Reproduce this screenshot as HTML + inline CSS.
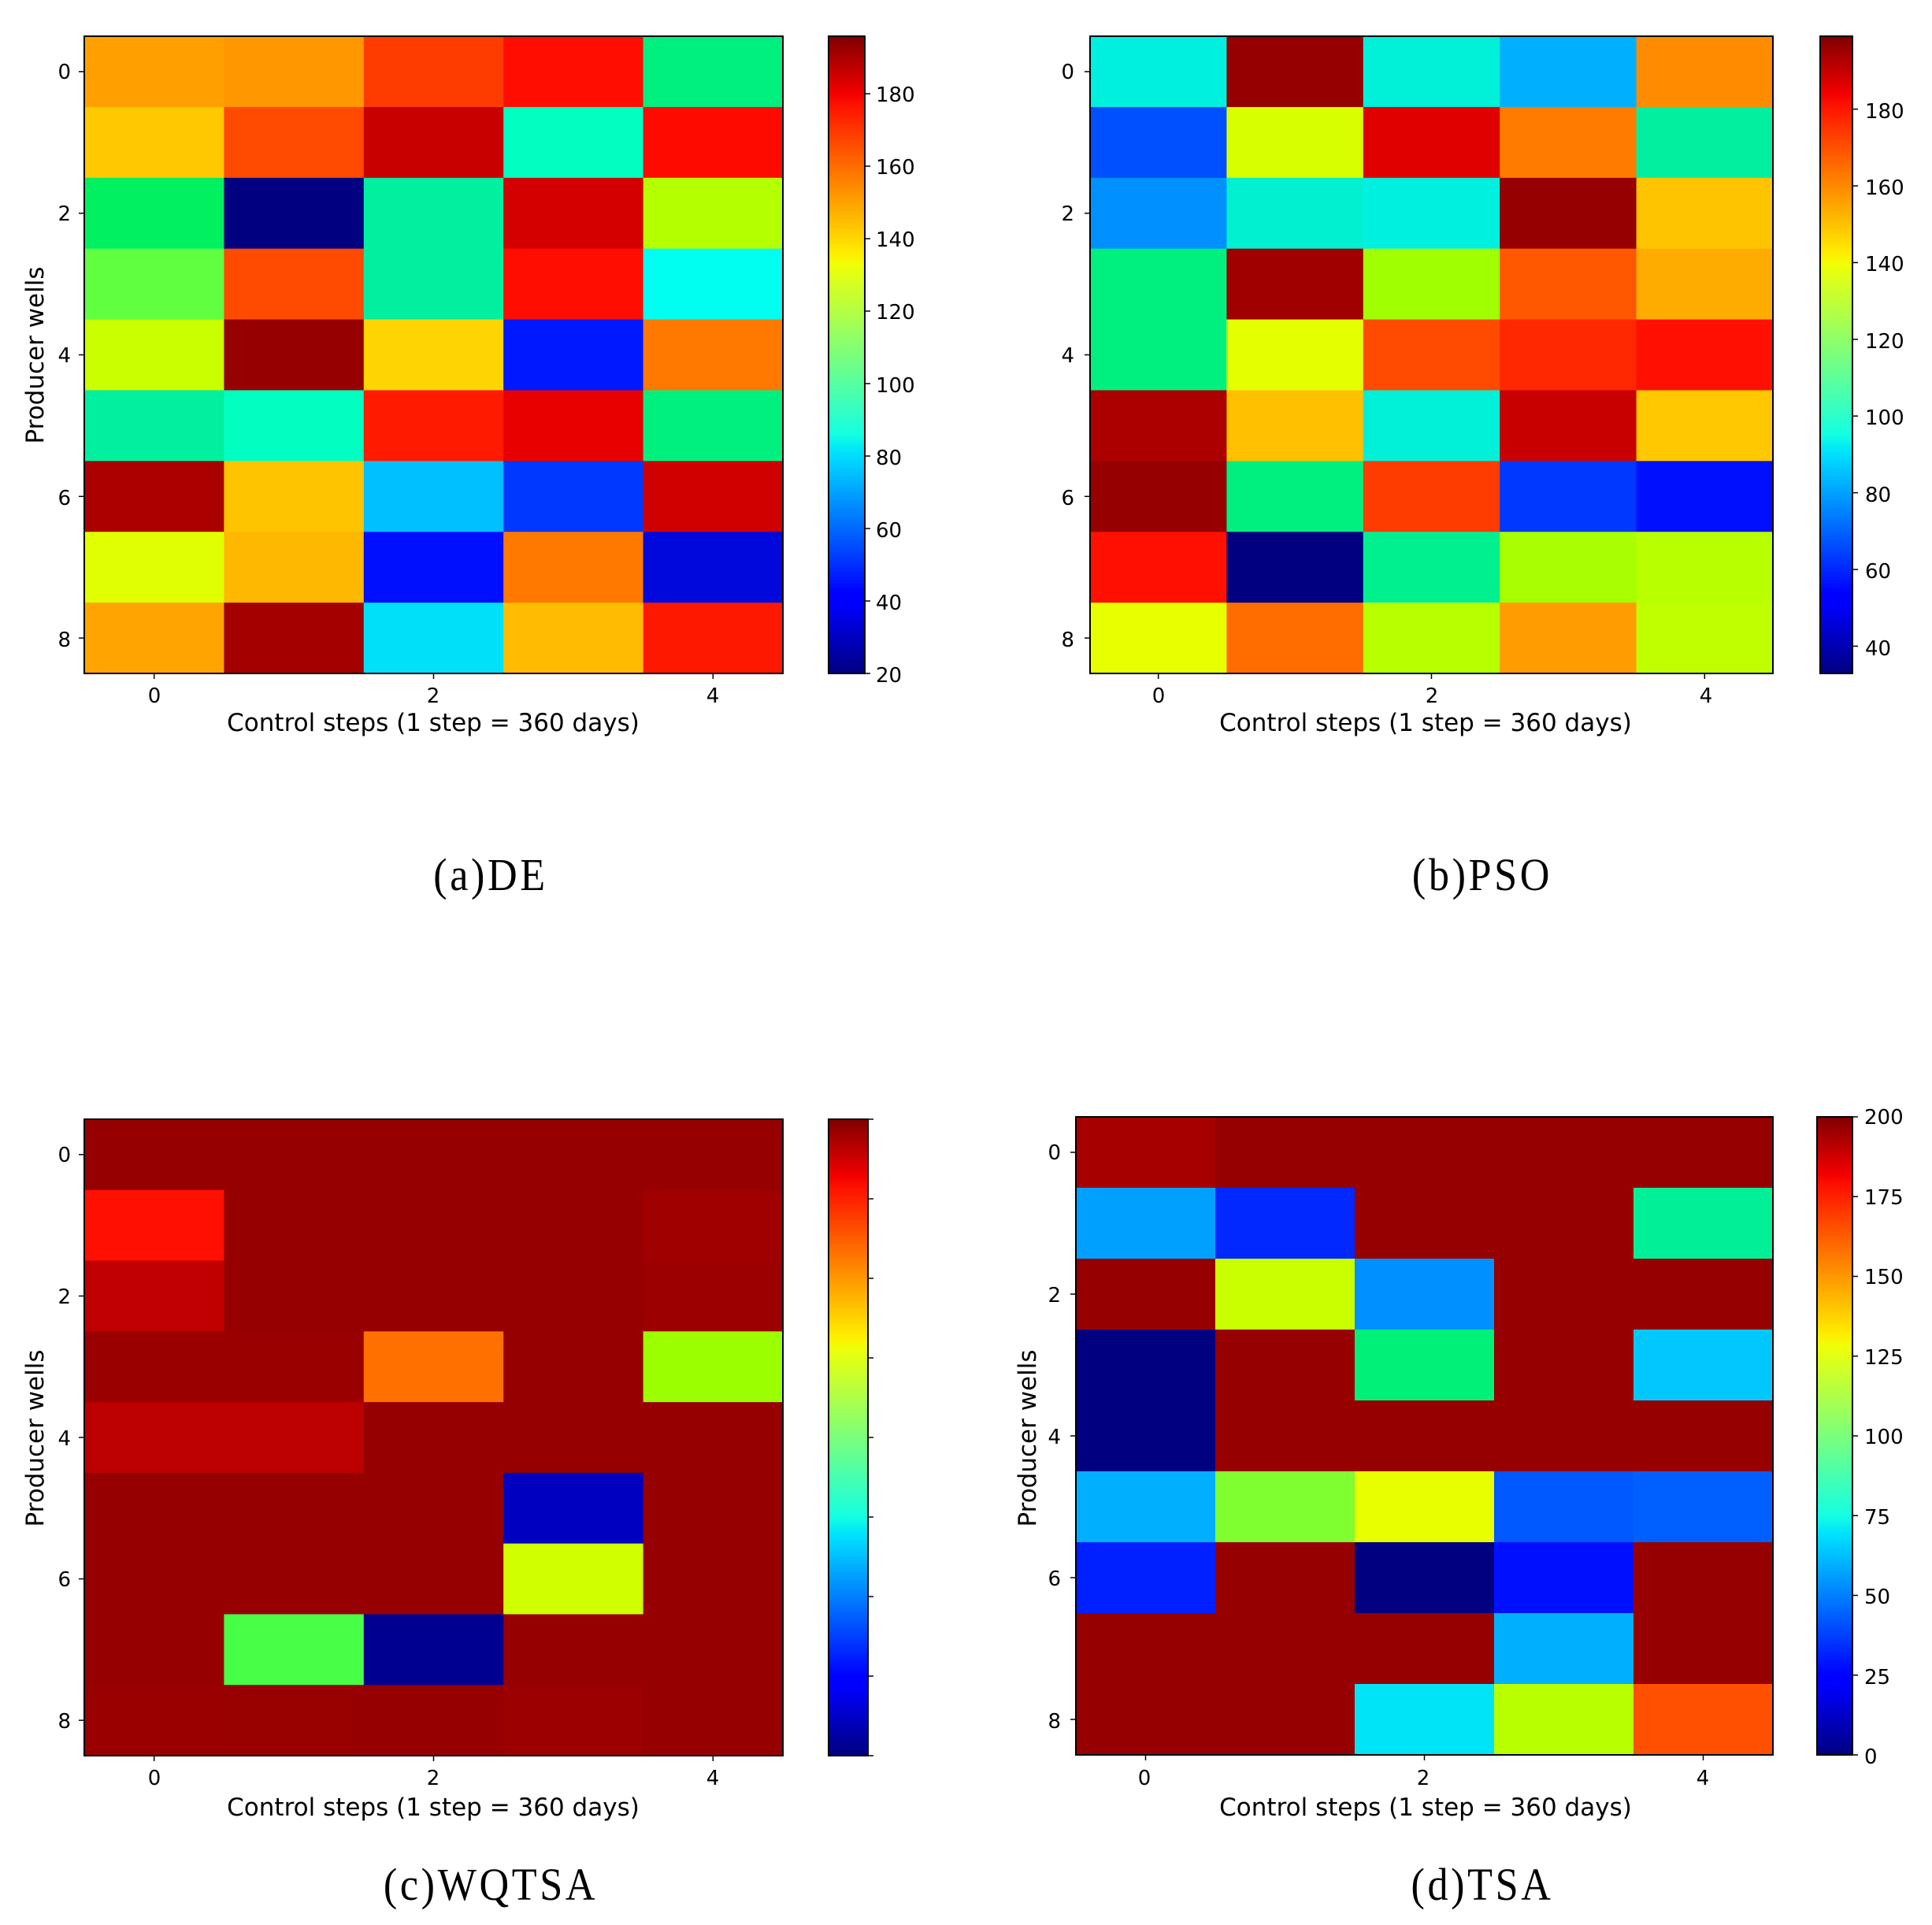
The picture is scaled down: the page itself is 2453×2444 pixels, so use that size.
<!DOCTYPE html>
<html><head><meta charset="utf-8"><style>
html,body{margin:0;padding:0;background:#fff}
svg{display:block}
text{font-family:"DejaVu Sans","Liberation Sans",sans-serif;fill:#000}
.t{font-size:26px}
.l{font-size:31px}
</style></head><body>
<svg id="s" width="2453" height="2444" viewBox="0 0 2453 2444" xmlns="http://www.w3.org/2000/svg">
<defs>
<linearGradient id="jet" x1="0" y1="1" x2="0" y2="0">
<stop offset="0" stop-color="#000080"/><stop offset="0.11" stop-color="#0000ff"/><stop offset="0.125" stop-color="#0000ff"/>
<stop offset="0.34" stop-color="#00dbff"/><stop offset="0.35" stop-color="#00e5f8"/><stop offset="0.375" stop-color="#14ffe2"/>
<stop offset="0.64" stop-color="#eeff08"/><stop offset="0.66" stop-color="#ffec00"/><stop offset="0.89" stop-color="#ff1300"/>
<stop offset="0.91" stop-color="#f30000"/><stop offset="1" stop-color="#800000"/>
</linearGradient>
</defs>
<g id="g"></g>
<g class="t" text-anchor="end">
<text x="90" y="100">0</text><text x="90" y="280">2</text><text x="90" y="460">4</text><text x="90" y="641">6</text><text x="90" y="821">8</text>
<text x="1364" y="100">0</text><text x="1364" y="280">2</text><text x="1364" y="460">4</text><text x="1364" y="641">6</text><text x="1364" y="821">8</text>
<text x="90" y="1475">0</text><text x="90" y="1655">2</text><text x="90" y="1835">4</text><text x="90" y="2014">6</text><text x="90" y="2194">8</text>
<text x="1347" y="1472">0</text><text x="1347" y="1653">2</text><text x="1347" y="1833">4</text><text x="1347" y="2013">6</text><text x="1347" y="2194">8</text>
</g>
<g class="t" text-anchor="middle">
<text x="196" y="892">0</text><text x="550" y="892">2</text><text x="905" y="892">4</text>
<text x="1471" y="892">0</text><text x="1818" y="892">2</text><text x="2166" y="892">4</text>
<text x="196" y="2266">0</text><text x="550" y="2266">2</text><text x="905" y="2266">4</text>
<text x="1453" y="2266">0</text><text x="1807" y="2266">2</text><text x="2162" y="2266">4</text>
</g>
<g class="t">
<text x="1112" y="866">20</text><text x="1112" y="774">40</text><text x="1112" y="682">60</text><text x="1112" y="590">80</text><text x="1112" y="498">100</text><text x="1112" y="405">120</text><text x="1112" y="313">140</text><text x="1112" y="221">160</text><text x="1112" y="129">180</text>
<text x="2368" y="832">40</text><text x="2368" y="734">60</text><text x="2368" y="637">80</text><text x="2368" y="539">100</text><text x="2368" y="442">120</text><text x="2368" y="344">140</text><text x="2368" y="247">160</text><text x="2368" y="150">180</text>
<text x="2367" y="2239">0</text><text x="2367" y="2138">25</text><text x="2367" y="2036">50</text><text x="2367" y="1935">75</text><text x="2367" y="1833">100</text><text x="2367" y="1732">125</text><text x="2367" y="1630">150</text><text x="2367" y="1529">175</text><text x="2367" y="1427">200</text>
</g>
<g class="l" text-anchor="middle">
<text x="550" y="928">Control steps (1 step = 360 days)</text>
<text x="1810" y="928">Control steps (1 step = 360 days)</text>
<text x="550" y="2305">Control steps (1 step = 360 days)</text>
<text x="1810" y="2305">Control steps (1 step = 360 days)</text>
<text transform="translate(55,451) rotate(-90)">Producer wells</text>
<text transform="translate(55,1826) rotate(-90)">Producer wells</text>
<text transform="translate(1315,1826) rotate(-90)">Producer wells</text>
</g>
<g text-anchor="middle" style="font-family:'Liberation Serif','Noto Serif CJK SC',serif;font-size:58px;letter-spacing:4px">
<text style="font-family:'Liberation Serif','Noto Serif CJK SC',serif" x="623" y="1130" transform="translate(623,0) scale(0.9,1) translate(-623,0)">(a)DE</text>
<text style="font-family:'Liberation Serif','Noto Serif CJK SC',serif" x="1882" y="1130" transform="translate(1882,0) scale(0.9,1) translate(-1882,0)">(b)PSO</text>
<text style="font-family:'Liberation Serif','Noto Serif CJK SC',serif" x="623" y="2412" transform="translate(623,0) scale(0.9,1) translate(-623,0)">(c)WQTSA</text>
<text style="font-family:'Liberation Serif','Noto Serif CJK SC',serif" x="1882" y="2412" transform="translate(1882,0) scale(0.9,1) translate(-1882,0)">(d)TSA</text>
</g>
</svg>
<script>
var R='#960000';
var P=[
{x0:107,x1:994,y0:46,y1:855,cb:[1052,1098],d:[
['#ffa000','#ff9800','#ff3c00','#ff0d00','#00f080'],
['#ffc800','#ff4a00','#c80000','#00ffc0','#ff0a00'],
['#00f060','#000080','#00f0a0','#d40000','#b4ff00'],
['#60ff40','#ff4a00','#00f0a0','#ff0d00','#00fff0'],
['#caff00','#960000','#ffd400','#0018ff','#ff7800'],
['#00f0a0','#00ffc0','#ff1a00','#e80000','#00f080'],
['#aa0000','#ffc400','#00c0ff','#0038ff','#d00000'],
['#e0ff00','#ffb800','#0010ff','#ff7800','#0008dc'],
['#ffa400','#a40000','#00e0f8','#ffbc00','#ff1800']],
ct:[855,763,671,579,487,395,303,211,119]},
{x0:1384,x1:2251,y0:46,y1:855,cb:[2311,2352],d:[
['#00f0e0','#960000','#00f0d8','#00b0ff','#ff8c00'],
['#0050ff','#d8ff00','#e00000','#ff7c00','#00f0a0'],
['#0090ff','#00f0d0','#00f0e0','#960000','#ffc400'],
['#00f080','#a00000','#a0ff00','#ff5800','#ffac00'],
['#00f080','#e4ff00','#ff4a00','#ff2800','#ff1000'],
['#ac0000','#ffc000','#00f0d8','#c80000','#ffc800'],
['#960000','#00f080','#ff3c00','#0038ff','#0010ff'],
['#ff1000','#000080','#00f090','#a8ff00','#b8ff00'],
['#e8ff00','#ff6c00','#b8ff00','#ff9c00','#c0ff00']],
ct:[820.4,723,625.6,528.2,430.8,333.4,236,138.6]},
{x0:107,x1:994,y0:1421,y1:2229,cb:[1052,1102],d:[
[R,R,R,R,R],
['#ff1000',R,R,R,'#a00000'],
['#c00000',R,R,R,'#9c0000'],
['#9a0000','#9a0000','#ff7000',R,'#9cff00'],
['#bc0000','#bc0000',R,R,R],
[R,R,R,'#0000c0',R],
[R,R,R,'#d0ff00',R],
[R,'#48ff48','#000090',R,R],
['#9a0000','#980000',R,'#9c0000',R]],
ct:[1421,1522,1623,1724,1825,1926,2027,2128,2229]},
{x0:1366,x1:2251,y0:1418,y1:2228,cb:[2307,2352],d:[
['#a60000',R,R,R,R],
['#00a0ff','#0028ff',R,R,'#00f098'],
[R,'#caff00','#0090ff',R,R],
['#000080',R,'#00f078',R,'#00c8ff'],
['#000080',R,R,R,R],
['#00b0ff','#80ff30','#e8ff00','#0058ff','#0060ff'],
['#0020ff',R,'#000080','#0010ff',R],
[R,R,R,'#00b0ff',R],
[R,R,'#00e4f8','#b8ff00','#ff5000']],
ct:[2228,2126.75,2025.5,1924.25,1823,1721.75,1620.5,1519.25,1418]}];
var h='';
P.forEach(function(p){
 var w=(p.x1-p.x0)/5, hh=(p.y1-p.y0)/9;
 for(var r=0;r<9;r++)for(var c=0;c<5;c++)
  h+='<rect x="'+(p.x0+c*w)+'" y="'+(p.y0+r*hh)+'" width="'+(w+0.6)+'" height="'+(hh+0.6)+'" fill="'+p.d[r][c]+'"/>';
 h+='<rect x="'+p.x0+'" y="'+p.y0+'" width="'+(p.x1-p.x0)+'" height="'+(p.y1-p.y0)+'" fill="none" stroke="#000" stroke-width="2"/>';
 for(var r=0;r<9;r+=2){var y=p.y0+(r+0.5)*hh;h+='<line x1="'+(p.x0-7)+'" x2="'+p.x0+'" y1="'+y+'" y2="'+y+'" stroke="#000" stroke-width="1.5"/>';}
 for(var c=0;c<5;c+=2){var x=p.x0+(c+0.5)*w;h+='<line x1="'+x+'" x2="'+x+'" y1="'+p.y1+'" y2="'+(p.y1+7)+'" stroke="#000" stroke-width="1.5"/>';}
 h+='<rect x="'+p.cb[0]+'" y="'+p.y0+'" width="'+(p.cb[1]-p.cb[0])+'" height="'+(p.y1-p.y0)+'" fill="url(#jet)" stroke="#000" stroke-width="2"/>';
 p.ct.forEach(function(y){h+='<line x1="'+p.cb[1]+'" x2="'+(p.cb[1]+7)+'" y1="'+y+'" y2="'+y+'" stroke="#000" stroke-width="1.5"/>';});
});
document.getElementById('g').innerHTML=h;
</script>
</body></html>
